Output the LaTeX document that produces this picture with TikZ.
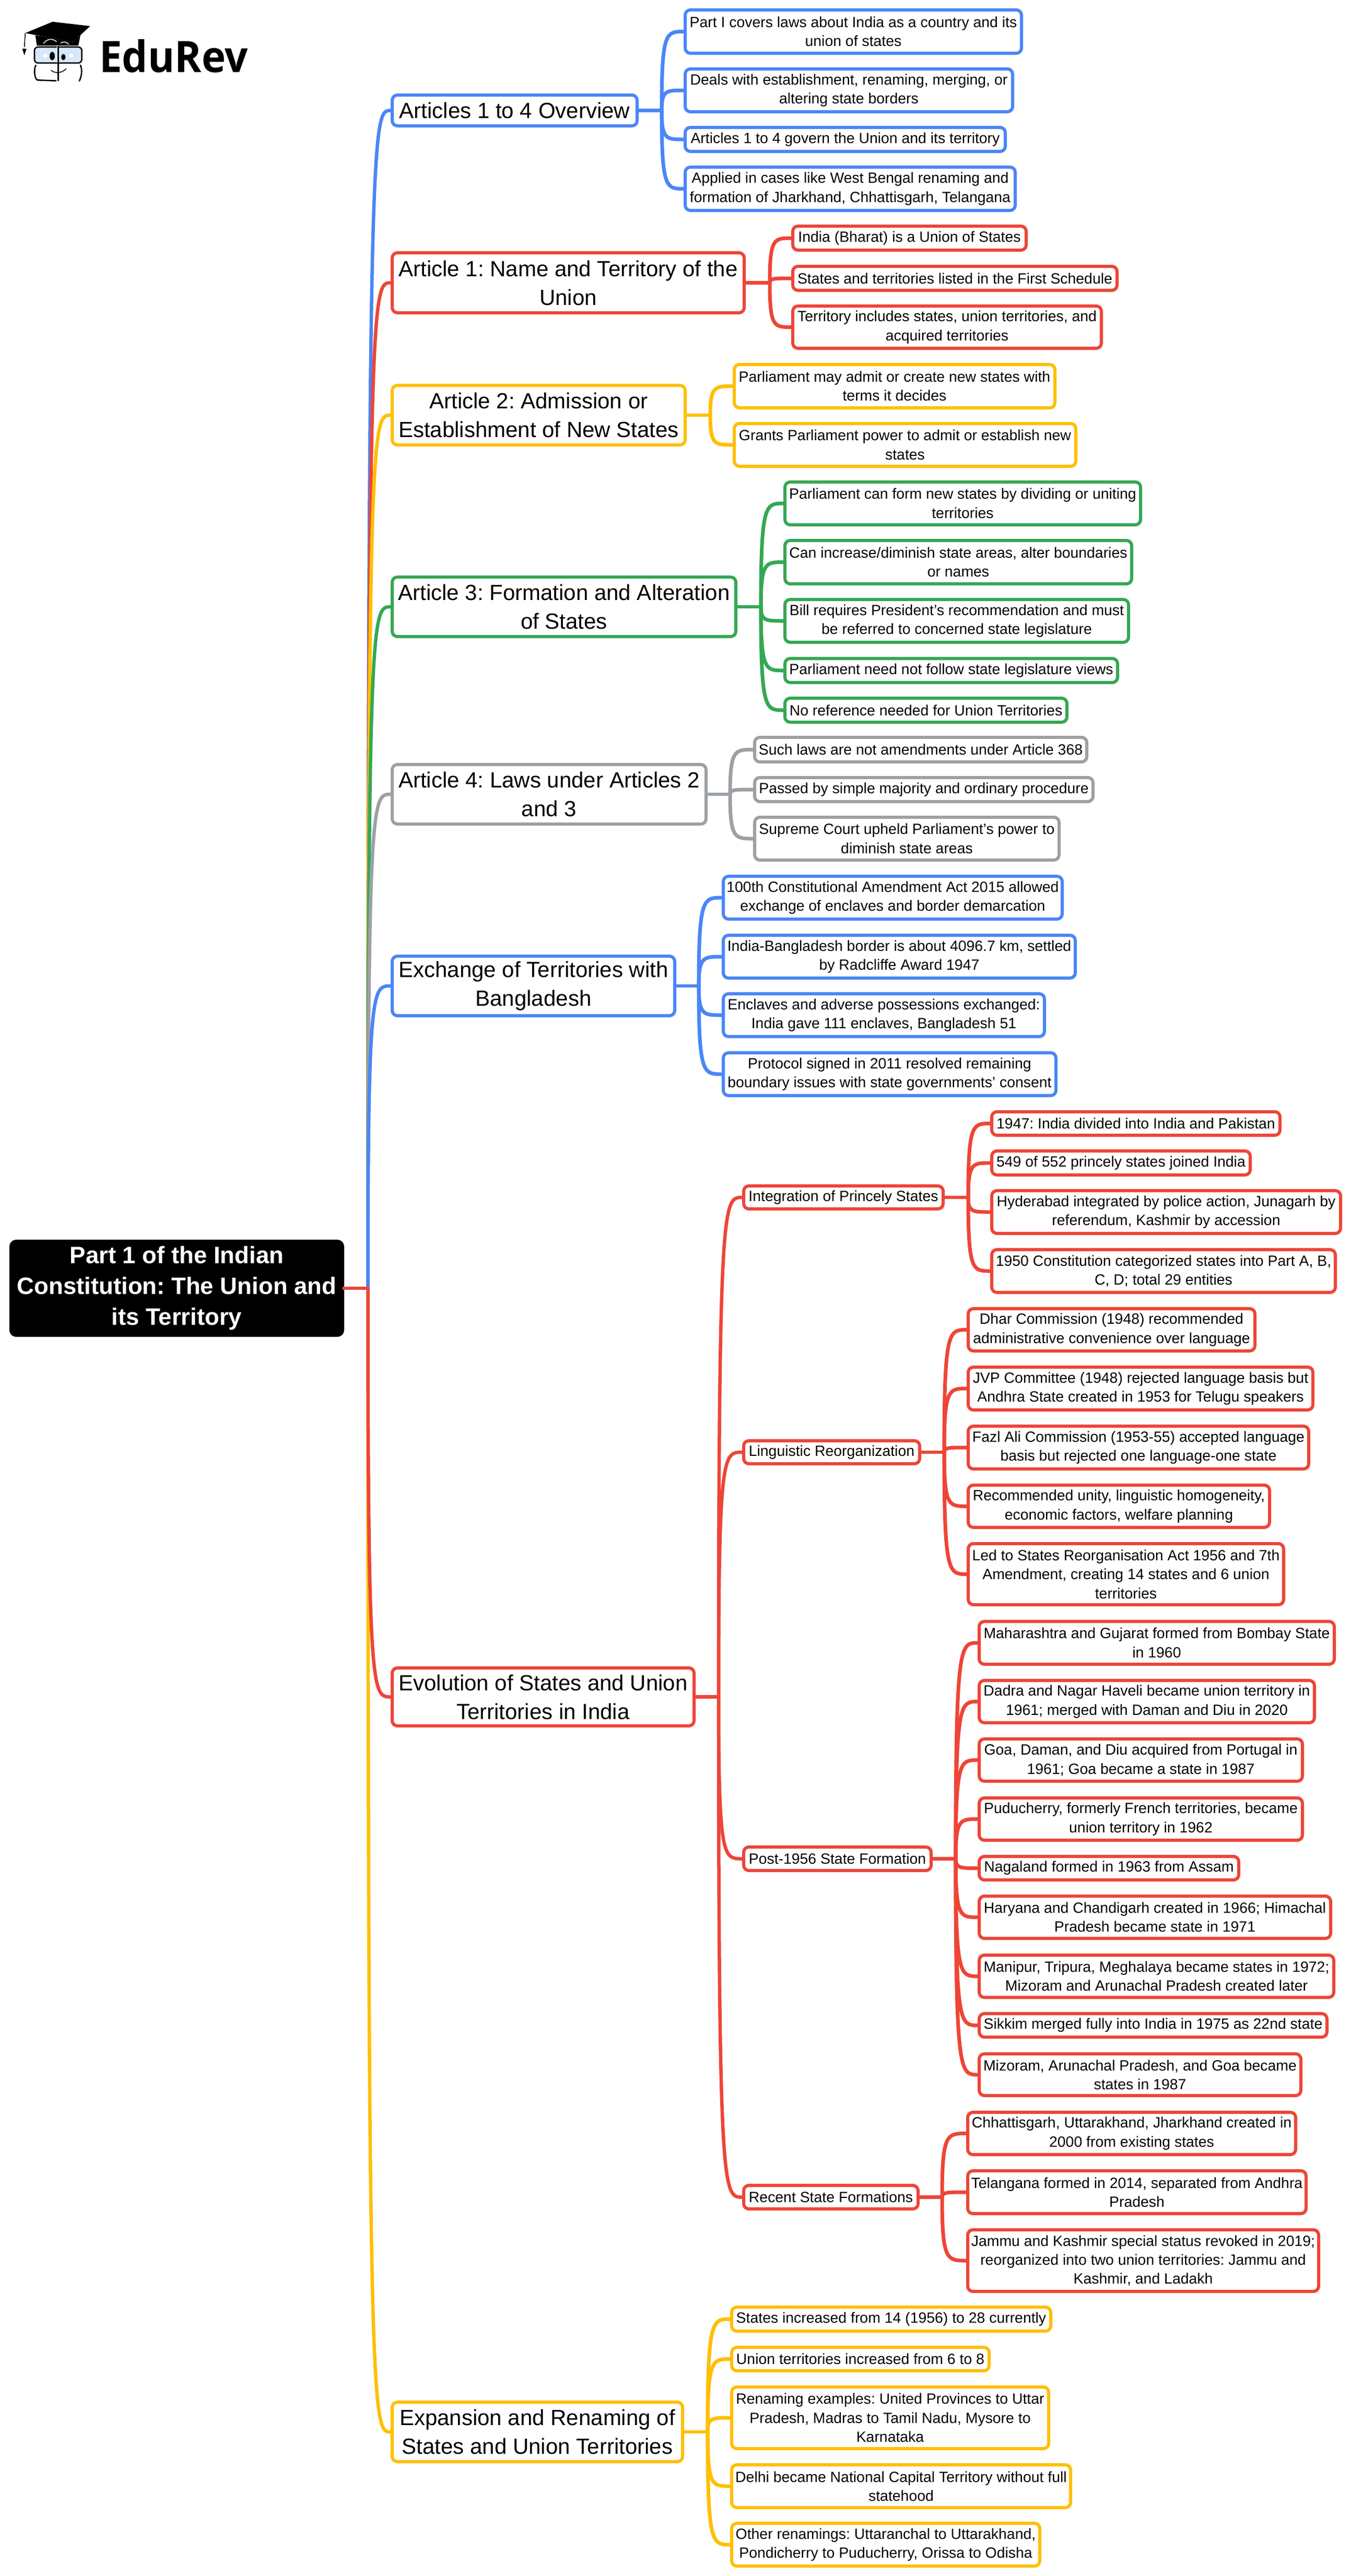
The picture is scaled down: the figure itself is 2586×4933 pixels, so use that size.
\documentclass[tikz,border=0pt]{standalone}
\usepackage{fontspec}
\setmainfont{Liberation Sans}
\newfontfamily\logofont{Open Sans}
\usetikzlibrary{calc}
\AtBeginDocument{\frenchspacing}
\definecolor{cblue}{HTML}{4A86F7}
\definecolor{cred}{HTML}{EE4537}
\definecolor{cyel}{HTML}{FFBF00}
\definecolor{cgrn}{HTML}{34A853}
\definecolor{cgry}{HTML}{9DA1A6}
\definecolor{cglass}{HTML}{D8E7FB}
\tikzset{
  boxbase/.style={draw=#1,fill=white,rounded corners=10pt,align=center,inner sep=0pt},
  mainbox/.style={boxbase=#1,line width=6pt,font=\fontsize{42}{55}\selectfont},
  leafbox/.style={boxbase=#1,line width=6pt,font=\fontsize{28.4}{36.4}\selectfont},
  rootbox/.style={draw=black,fill=black,text=white,rounded corners=10pt,align=center,inner sep=0pt,line width=6pt,font=\fontsize{45.5}{59}\selectfont\bfseries},
  wire/.style={draw=#1,line width=7pt,line cap=round},
  mainwire/.style={draw=#1,line width=6.5pt,line cap=round},
}
% \bx{name}{x1}{y1}{x2}{y2}{style}{text}
\newcommand{\bx}[7]{%
  \pgfmathsetmacro{\bxw}{#4-#2-6}\pgfmathsetmacro{\bxh}{#5-#3-6}%
  \node[#6,minimum width=\bxw pt,minimum height=\bxh pt] (#1) at ({(#2+#4)/2},{(#3+#5)/2}) {#7};}
% \fan{wire style}{parent}{spine x}{children}
\newcommand{\fan}[4]{%
  \coordinate (sp) at (#3,0);
  \foreach \ch in {#4} {
    \draw[#1] (#2.east -| sp) .. controls (sp |- \ch.west) and ($(sp |- \ch.west)!0.2!(\ch.west)$) .. (\ch.west);
  }
  \draw[#1,line width=6.5pt] (#2.east) -- (#2.east -| sp);}
\begin{document}
\begin{tikzpicture}[x=1pt,y=-1pt]
\useasboundingbox (0,0) rectangle (2586,4933);
\fill[white] (0,0) rectangle (2586,4933);

% nodes
\bx{root}{18}{2374}{659}{2560}{rootbox}{Part 1 of the Indian\\Constitution: The Union and\\its Territory}

\bx{m0}{748}{179}{1223}{244}{mainbox=cblue}{Articles 1 to 4 Overview}
\bx{m1}{748}{481}{1428}{602}{mainbox=cred}{Article 1: Name and Territory of the\\Union}
\bx{m2}{748}{735}{1315}{855}{mainbox=cyel}{Article 2: Admission or\\Establishment of New States}
\bx{m3}{748}{1102}{1412}{1222}{mainbox=cgrn}{Article 3: Formation and Alteration\\of States}
\bx{m4}{748}{1461}{1355}{1581}{mainbox=cgry}{Article 4: Laws under Articles 2\\and 3}
\bx{m5}{748}{1828}{1295}{1948}{mainbox=cblue}{Exchange of Territories with\\Bangladesh}
\bx{m6}{748}{3191}{1332}{3308}{mainbox=cred}{Evolution of States and Union\\Territories in India}
\bx{m7}{748}{4597}{1310}{4717}{mainbox=cyel}{Expansion and Renaming of\\States and Union Territories}

\bx{a0}{1309}{16}{1959}{105}{leafbox=cblue}{Part I covers laws about India as a country and its\\union of states}
\bx{a1}{1309}{129}{1942}{217}{leafbox=cblue}{Deals with establishment, renaming, merging, or\\altering state borders}
\bx{a2}{1309}{241}{1928}{293}{leafbox=cblue}{Articles 1 to 4 govern the Union and its territory}
\bx{a3}{1309}{317}{1947}{406}{leafbox=cblue}{Applied in cases like West Bengal renaming and\\formation of Jharkhand, Chhattisgarh, Telangana}

\bx{b0}{1515}{430}{1968}{482}{leafbox=cred}{India (Bharat) is a Union of States}
\bx{b1}{1515}{507}{2142}{559}{leafbox=cred}{States and territories listed in the First Schedule}
\bx{b2}{1515}{583}{2112}{670}{leafbox=cred}{Territory includes states, union territories, and\\acquired territories}

\bx{c0}{1403}{695}{2023}{784}{leafbox=cyel}{Parliament may admit or create new states with\\terms it decides}
\bx{c1}{1403}{808}{2063}{896}{leafbox=cyel}{Grants Parliament power to admit or establish new\\states}

\bx{d0}{1500}{920}{2187}{1008}{leafbox=cgrn}{Parliament can form new states by dividing or uniting\\territories}
\bx{d1}{1500}{1032}{2170}{1121}{leafbox=cgrn}{Can increase/diminish state areas, alter boundaries\\or names}
\bx{d2}{1500}{1145}{2164}{1233}{leafbox=cgrn}{Bill requires President's recommendation and must\\be referred to concerned state legislature}
\bx{d3}{1500}{1258}{2143}{1310}{leafbox=cgrn}{Parliament need not follow state legislature views}
\bx{d4}{1500}{1334}{2046}{1386}{leafbox=cgrn}{No reference needed for Union Territories}

\bx{e0}{1442}{1409}{2084}{1462}{leafbox=cgry}{Such laws are not amendments under Article 368}
\bx{e1}{1442}{1486}{2096}{1538}{leafbox=cgry}{Passed by simple majority and ordinary procedure}
\bx{e2}{1442}{1562}{2031}{1650}{leafbox=cgry}{Supreme Court upheld Parliament's power to\\diminish state areas}

\bx{f0}{1382}{1675}{2037}{1763}{leafbox=cblue}{100th Constitutional Amendment Act 2015 allowed\\exchange of enclaves and border demarcation}
\bx{f1}{1382}{1788}{2062}{1876}{leafbox=cblue}{India-Bangladesh border is about 4096.7 km, settled\\by Radcliffe Award 1947}
\bx{f2}{1382}{1900}{2003}{1988}{leafbox=cblue}{Enclaves and adverse possessions exchanged:\\India gave 111 enclaves, Bangladesh 51}
\bx{f3}{1382}{2013}{2025}{2101}{leafbox=cblue}{Protocol signed in 2011 resolved remaining\\boundary issues with state governments' consent}

\bx{g0}{1421}{2268}{1809}{2318}{leafbox=cred}{Integration of Princely States}
\bx{g1}{1421}{2756}{1764}{2806}{leafbox=cred}{Linguistic Reorganization}
\bx{g2}{1421}{3534}{1786}{3585}{leafbox=cred}{Post-1956 State Formation}
\bx{g3}{1421}{4182}{1761}{4233}{leafbox=cred}{Recent State Formations}

\bx{i0}{1896}{2126}{2454}{2177}{leafbox=cred}{1947: India divided into India and Pakistan}
\bx{i1}{1896}{2201}{2397}{2253}{leafbox=cred}{549 of 552 princely states joined India}
\bx{i2}{1896}{2277}{2570}{2365}{leafbox=cred}{Hyderabad integrated by police action, Junagarh by\\referendum, Kashmir by accession}
\bx{i3}{1896}{2390}{2560}{2478}{leafbox=cred}{1950 Constitution categorized states into Part A, B,\\C, D; total 29 entities}

\bx{j0}{1851}{2503}{2406}{2590}{leafbox=cred}{Dhar Commission (1948) recommended\\administrative convenience over language}
\bx{j1}{1851}{2615}{2517}{2703}{leafbox=cred}{JVP Committee (1948) rejected language basis but\\Andhra State created in 1953 for Telugu speakers}
\bx{j2}{1851}{2728}{2509}{2816}{leafbox=cred}{Fazl Ali Commission (1953-55) accepted language\\basis but rejected one language-one state}
\bx{j3}{1851}{2841}{2434}{2928}{leafbox=cred}{Recommended unity, linguistic homogeneity,\\economic factors, welfare planning}
\bx{j4}{1851}{2953}{2461}{3076}{leafbox=cred}{Led to States Reorganisation Act 1956 and 7th\\Amendment, creating 14 states and 6 union\\territories}

\bx{k0}{1872}{3102}{2558}{3190}{leafbox=cred}{Maharashtra and Gujarat formed from Bombay State\\in 1960}
\bx{k1}{1872}{3215}{2520}{3302}{leafbox=cred}{Dadra and Nagar Haveli became union territory in\\1961; merged with Daman and Diu in 2020}
\bx{k2}{1872}{3327}{2497}{3414}{leafbox=cred}{Goa, Daman, and Diu acquired from Portugal in\\1961; Goa became a state in 1987}
\bx{k3}{1872}{3440}{2497}{3527}{leafbox=cred}{Puducherry, formerly French territories, became\\union territory in 1962}
\bx{k4}{1872}{3552}{2375}{3603}{leafbox=cred}{Nagaland formed in 1963 from Assam}
\bx{k5}{1872}{3628}{2551}{3715}{leafbox=cred}{Haryana and Chandigarh created in 1966; Himachal\\Pradesh became state in 1971}
\bx{k6}{1872}{3741}{2557}{3828}{leafbox=cred}{Manipur, Tripura, Meghalaya became states in 1972;\\Mizoram and Arunachal Pradesh created later}
\bx{k7}{1872}{3853}{2544}{3904}{leafbox=cred}{Sikkim merged fully into India in 1975 as 22nd state}
\bx{k8}{1872}{3930}{2494}{4016}{leafbox=cred}{Mizoram, Arunachal Pradesh, and Goa became\\states in 1987}

\bx{l0}{1850}{4042}{2484}{4129}{leafbox=cred}{Chhattisgarh, Uttarakhand, Jharkhand created in\\2000 from existing states}
\bx{l1}{1850}{4154}{2504}{4242}{leafbox=cred}{Telangana formed in 2014, separated from Andhra\\Pradesh}
\bx{l2}{1850}{4267}{2528}{4391}{leafbox=cred}{Jammu and Kashmir special status revoked in 2019;\\reorganized into two union territories: Jammu and\\Kashmir, and Ladakh}

\bx{n0}{1398}{4415}{2015}{4467}{leafbox=cyel}{States increased from 14 (1956) to 28 currently}
\bx{n1}{1398}{4492}{1897}{4543}{leafbox=cyel}{Union territories increased from 6 to 8}
\bx{n2}{1398}{4568}{2011}{4692}{leafbox=cyel}{Renaming examples: United Provinces to Uttar\\Pradesh, Madras to Tamil Nadu, Mysore to\\Karnataka}
\bx{n3}{1398}{4717}{2053}{4805}{leafbox=cyel}{Delhi became National Capital Territory without full\\statehood}
\bx{n4}{1398}{4829}{1994}{4917}{leafbox=cyel}{Other renamings: Uttaranchal to Uttarakhand,\\Pondicherry to Puducherry, Orissa to Odisha}

% connectors
\fan{mainwire=cblue}{root}{704.5}{m0}
\fan{mainwire=cred}{root}{704.5}{m1}
\fan{mainwire=cyel}{root}{704.5}{m2}
\fan{mainwire=cgrn}{root}{704.5}{m3}
\fan{mainwire=cgry}{root}{704.5}{m4}
\fan{mainwire=cblue}{root}{704.5}{m5}
\fan{mainwire=cyel}{root}{704.5}{m7}
\fan{mainwire=cred}{root}{704.5}{m6}

\fan{wire=cblue}{m0}{1267}{a0,a1,a2,a3}
\fan{wire=cred}{m1}{1474}{b0,b1,b2}
\fan{wire=cyel}{m2}{1360}{c0,c1}
\fan{wire=cgrn}{m3}{1457}{d0,d1,d2,d3,d4}
\fan{wire=cgry}{m4}{1398}{e0,e1,e2}
\fan{wire=cblue}{m5}{1338}{f0,f1,f2,f3}
\fan{mainwire=cred}{m6}{1376}{g0,g1,g2,g3}
\fan{wire=cred}{g0}{1854}{i0,i1,i2,i3}
\fan{wire=cred}{g1}{1808}{j0,j1,j2,j3,j4}
\fan{wire=cred}{g2}{1830}{k0,k1,k2,k3,k4,k5,k6,k7,k8}
\fan{wire=cred}{g3}{1804}{l0,l1,l2}
\fan{wire=cyel}{m7}{1355}{n0,n1,n2,n3,n4}

% logo
\node[font=\logofont\bfseries\fontsize{83}{83}\selectfont,anchor=base west,inner sep=0pt] (logotext) at (190,138) {\scalebox{0.94}[1]{EduRev}};
\begin{scope}[shift={(30,30)},x=0.3333pt,y=-0.3333pt]
  \fill (212,35) -- (428,60) -- (328,152) -- (55,100) -- cycle;
  \fill (113,113) -- (122,172) -- (360,172) -- (372,112) -- (328,152) -- (160,120) -- cycle;
  \draw[white,line width=1.5pt] (160,160) .. controls (180,130) and (215,130) .. (235,150);
  \draw[white,line width=1.5pt] (258,158) .. controls (270,148) and (290,148) .. (305,165);
  \draw[line width=1.5pt] (55,100) -- (50,180);
  \fill (38,190) -- (62,190) -- (50,228) -- cycle;
  \draw[line width=2.6pt,fill=cglass,rounded corners=7pt] (108,180) rectangle (380,272);
  \draw[line width=2.6pt,line cap=round] (116,285) .. controls (105,300) and (105,360) .. (125,370) -- (232,374);
  \draw[line width=2.6pt,line cap=round] (372,285) .. controls (385,310) and (378,350) .. (366,375);
  \draw[white,line width=2pt] (240,172) -- (240,270);
  \draw[line width=2.4pt] (245,175) -- (245,376);
  \fill (210,232) ellipse (15 and 24);
  \fill (274,238) ellipse (12 and 18);
  \fill[white] (160,218) rectangle (180,240);
  \fill[white] (310,218) rectangle (330,240);
  \draw[line width=1.6pt] (203,314) .. controls (230,335) and (265,330) .. (290,305);
\end{scope}
\end{tikzpicture}
\end{document}
